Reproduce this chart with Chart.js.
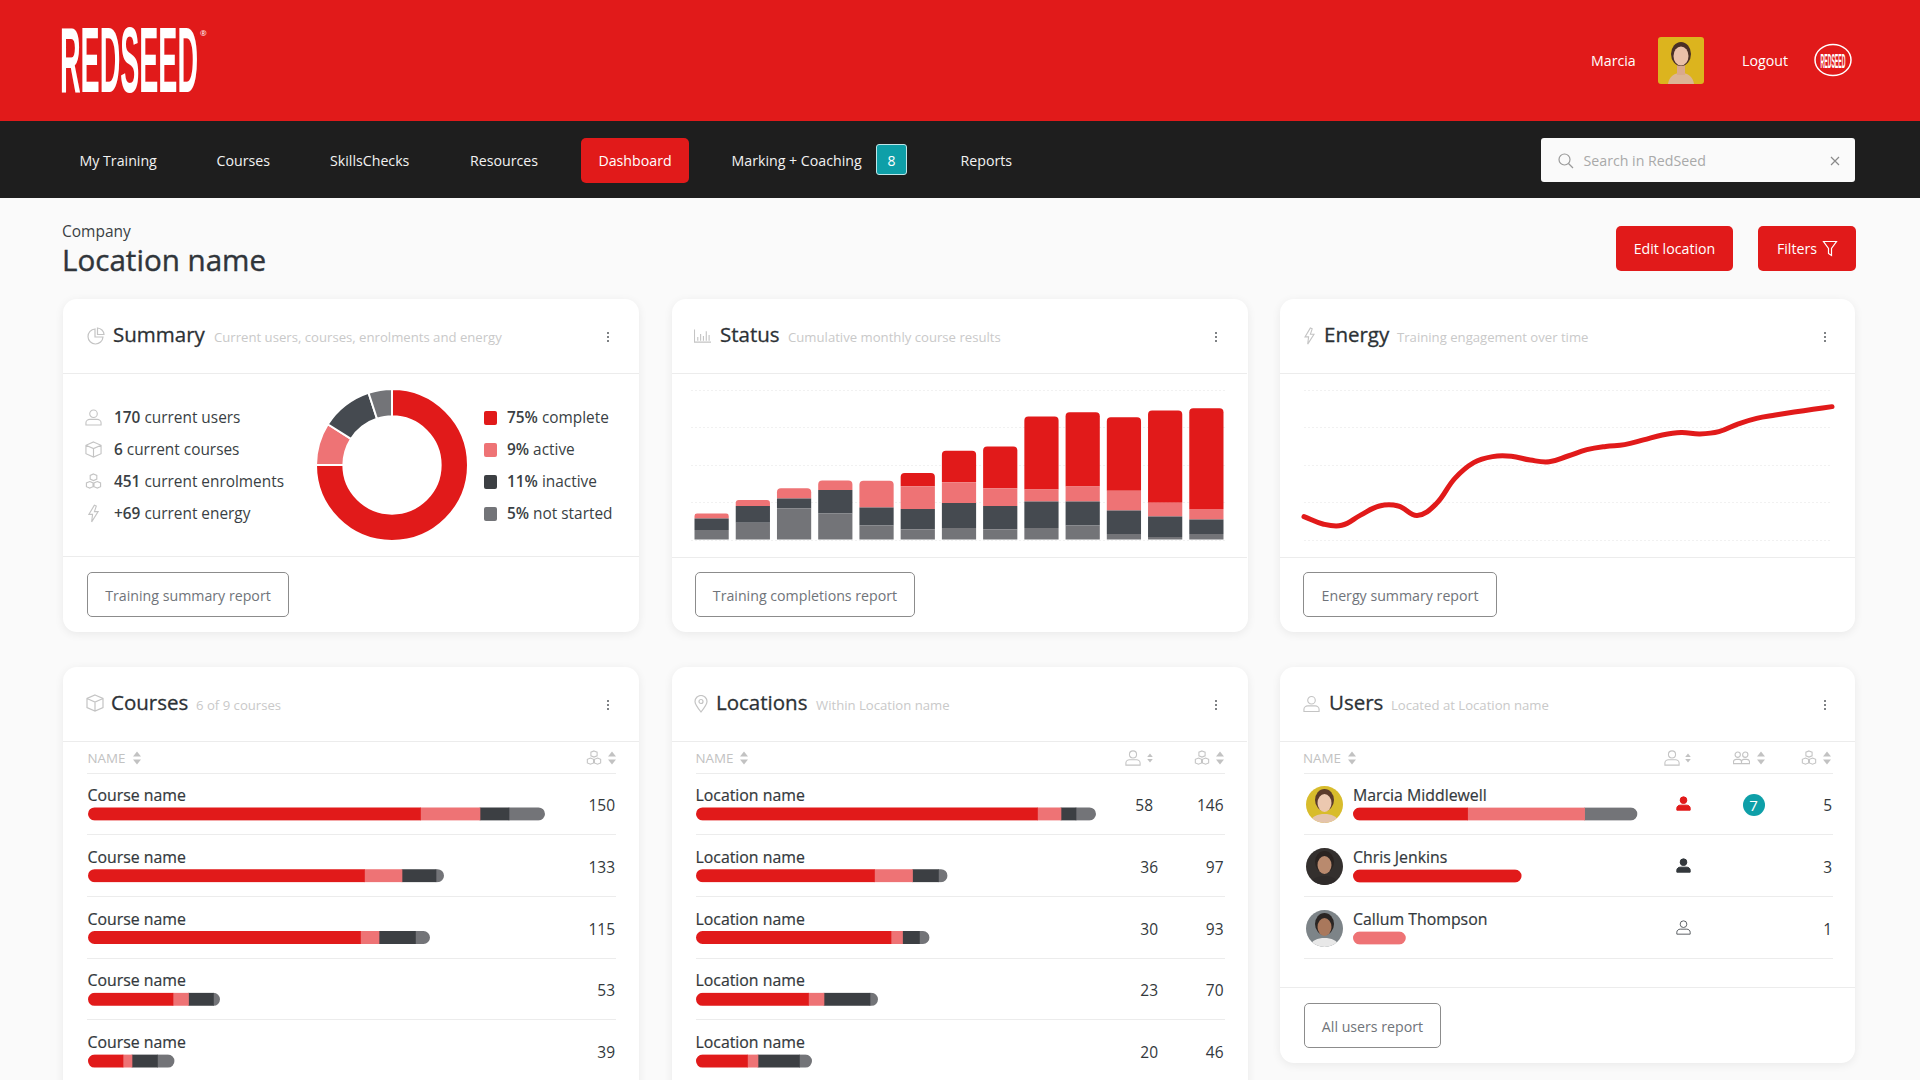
<!DOCTYPE html>
<html>
<head>
<meta charset="utf-8">
<title>RedSeed dashboard</title>
<script src="https://cdn.jsdelivr.net/npm/chart.js@4"></script>
<style>
  html, body { margin: 0; padding: 0; }
  body { width: 1920px; height: 1080px; overflow: hidden; position: relative; background: #fafafa; font-family: 'Open Sans', sans-serif; color: #33383c; }
  .box { position: absolute; }
  .t { position: absolute; white-space: nowrap; transform: translateY(-50%); line-height: 1.2; }
  .t.r { transform: translate(-100%, -50%); }
  .t.c { transform: translate(-50%, -50%); }
  .card { position: absolute; background: #fff; border-radius: 14px; box-shadow: 0 2px 10px rgba(0,0,0,0.07); }
  .rule { position: absolute; height: 1px; background: #ececec; }
  .title { font-size: 20.5px; -webkit-text-stroke: 0.3px #2c3135; color: #2c3135; }
  .sub { font-size: 13.15px; color: #c9c9c9; }
  .nav { font-size: 14.2px; color: #f2f2f2; }
  .btn { position: absolute; box-sizing: border-box; border: 1px solid #8c8c8c; border-radius: 5px; background: #fff; color: #70747a; font-size: 14.2px; padding-top: 1px; display: flex; align-items: center; justify-content: center; }
  .btn.red { background: #e11a1a; border: 0; color: #fff; border-radius: 5px; }
  .stat { font-size: 15.4px; color: #3a3f44; }
  .stat b { font-weight: 600; }
  .head { font-size: 13.4px; color: #c2c2c2; }
  .rowname { font-size: 15.85px; -webkit-text-stroke: 0.2px #33383c; color: #33383c; }
  .rowval { font-size: 15.5px; color: #33383c; }
  canvas { position: absolute; }
  svg.i { position: absolute; fill: none; stroke: #c4c4c4; stroke-width: 1.2; overflow: visible; }
</style>
</head>
<body>

<svg width="0" height="0" style="position:absolute">
  <symbol id="user" viewBox="0 0 18 18"><circle cx="9" cy="5" r="4"/><path d="M1 17v-2.5c0-2 2-3.5 4-3.5h8c2 0 4 1.500 4 3.500V17z"/></symbol>
  <symbol id="group" viewBox="0 0 18 14"><circle cx="5" cy="3.500" r="2.800"/><circle cx="13" cy="3.500" r="2.800"/><path d="M.5 13v-2c0-1.500 1.500-2.500 3-2.500h3c1.500 0 2.500 1 2.500 2.500v2zM9 13v-2c0-1.500 1-2.500 2.500-2.500h3c1.500 0 3 1 3 2.500v2z"/></symbol>
  <symbol id="cube" viewBox="0 0 18 18"><path d="M9 1l8 3.500v9L9 17l-8-3.500v-9zM1 4.500L9 8l8-3.500M9 8v9"/></symbol>
  <symbol id="cubes" viewBox="0 0 18 18"><path d="M9 1l3.500 1.500v4L9 8 5.500 6.500v-4zM5 9l3.500 1.500v4L5 16l-3.500-1.500v-4zM13 9l3.500 1.500v4L13 16l-3.500-1.500v-4z"/></symbol>
  <symbol id="bolt" viewBox="0 0 14 20"><path d="M8 1L2 11h4l-1 8 7-11H8l2-6z"/></symbol>
  <symbol id="pie" viewBox="0 0 18 18"><path d="M8 2a7.500 7.500 0 1 0 8 8H8zM10.500 1a7 7 0 0 1 6.500 6.500h-6.500z"/></symbol>
  <symbol id="bars" viewBox="0 0 18 14"><path d="M.5 0v13.500H18M4 12V8M7 12V5M10 12V7M13 12V2M16 12V6"/></symbol>
  <symbol id="pin" viewBox="0 0 14 18"><path d="M7 17C3 12 1 9 1 6.500a6 6 0 0 1 12 0C13 9 11 12 7 17z"/><circle cx="7" cy="6.500" r="2"/></symbol>
</svg>

<!-- top bar -->
<div class="box" style="left:0;top:0;width:1920px;height:121px;background:#e11a1a"></div>
<div class="box" style="left:0;top:121px;width:1920px;height:77px;background:#1e1e1e"></div>
<svg class="box" style="left:55px;top:20px" width="160" height="80">
  <text x="5" y="72" font-family="Liberation Sans" font-weight="700" font-size="92" fill="#fff" textLength="138" lengthAdjust="spacingAndGlyphs">REDSEED</text>
  <text x="145" y="16" font-family="Open Sans" font-size="8" fill="#fff">®</text>
</svg>

<div class="t nav" style="left:79.500px;top:161px">My Training</div>
<div class="t nav" style="left:216.500px;top:161px">Courses</div>
<div class="t nav" style="left:330px;top:161px">SkillsChecks</div>
<div class="t nav" style="left:470px;top:161px">Resources</div>
<div class="btn red" style="left:581px;top:138px;width:108px;height:45px;padding-top:0">Dashboard</div>
<div class="t nav" style="left:731.500px;top:161px">Marking + Coaching</div>
<div class="btn" style="left:876px;top:144px;width:31px;height:31px;background:#0e9fa8;border:1px solid #bfe6e8;color:#fff;font-size:14px;border-radius:3px">8</div>
<div class="t nav" style="left:960.500px;top:161px">Reports</div>

<div class="t" style="left:1591px;top:61px;font-size:14.2px;color:#fff">Marcia</div>
<svg class="box" style="left:1658px;top:37px;border-radius:3px" width="46" height="47" viewBox="0 0 46 47">
  <rect width="46" height="47" fill="#dcb41e"/>
  <path d="M10 47c1-8 7-11 13-11s12 3 13 11z" fill="#dcb595"/>
  <rect x="19" y="26" width="8" height="12" fill="#d9a98c"/>
  <ellipse cx="23" cy="17" rx="10" ry="12" fill="#4a3026"/>
  <ellipse cx="23" cy="19" rx="7.500" ry="9.500" fill="#eac0a8"/>
</svg>
<div class="t" style="left:1742px;top:61px;font-size:14.2px;color:#fff">Logout</div>
<svg class="box" style="left:1813px;top:43px" width="40" height="34">
  <ellipse cx="20" cy="17" rx="18" ry="15.500" fill="none" stroke="#fff" stroke-width="1.500"/>
  <text x="7.500" y="24.500" font-family="Liberation Sans" font-weight="700" font-size="20" fill="#fff" textLength="25" lengthAdjust="spacingAndGlyphs">REDSEED</text>
</svg>

<div class="box" style="left:1541px;top:138px;width:314px;height:44px;background:#fafafa;border-radius:3px"></div>
<svg class="i" style="left:1558px;top:153px;stroke:#9a9a9a" width="16" height="16" viewBox="0 0 16 16"><circle cx="6.500" cy="6.500" r="5.500"/><path d="M10.500 10.500L15 15"/></svg>
<div class="t" style="left:1583.500px;top:161px;font-size:14.2px;color:#a9a9a9">Search in RedSeed</div>
<svg class="i" style="left:1831px;top:157px;stroke:#8a8a8a" width="8" height="8" viewBox="0 0 8 8"><path d="M0 0L8 8M8 0L0 8"/></svg>

<!-- page title -->
<div class="t" style="left:62px;top:231px;font-size:15.500px;color:#3a3f44">Company</div>
<div class="t" style="left:62px;top:260px;font-size:29.6px;-webkit-text-stroke:0.4px #30353a;color:#30353a">Location name</div>
<div class="btn red" style="left:1616px;top:226px;width:117px;height:45px;padding-top:0">Edit location</div>
<div class="btn red" style="left:1758px;top:226px;width:98px;height:45px;padding:0 20px 0 0">Filters</div>
<svg class="i" style="left:1823px;top:241px;stroke:#fff" width="14" height="15" viewBox="0 0 14 15"><path d="M.5 .5h13L8.500 7.500V14.500L5.500 12.500V7.500z"/></svg>

<!-- row 1 cards -->
<div class="card" style="left:63px;top:299px;width:576px;height:333px"></div>
<div class="card" style="left:671.500px;top:299px;width:576px;height:333px"></div>
<div class="card" style="left:1280px;top:299px;width:575px;height:333px"></div>
<div class="rule" style="left:63px;top:373px;width:576px"></div>
<div class="rule" style="left:63px;top:556px;width:576px"></div>
<div class="rule" style="left:672px;top:373px;width:575px"></div>
<div class="rule" style="left:672px;top:557px;width:575px"></div>
<div class="rule" style="left:1280px;top:373px;width:575px"></div>
<div class="rule" style="left:1280px;top:557px;width:575px"></div>

<svg class="i" style="left:87px;top:327px" width="18" height="18"><use href="#pie"/></svg>
<div class="t title" style="left:113px;top:333.500px">Summary</div>
<div class="t sub" style="left:214px;top:337.500px">Current users, courses, enrolments and energy</div>
<svg class="i" style="left:694px;top:329px" width="17" height="14"><use href="#bars"/></svg>
<div class="t title" style="left:720px;top:333.500px">Status</div>
<div class="t sub" style="left:788px;top:337.500px">Cumulative monthly course results</div>
<svg class="i" style="left:1303px;top:327px" width="13" height="18"><use href="#bolt"/></svg>
<div class="t title" style="left:1324px;top:333.500px">Energy</div>
<div class="t sub" style="left:1397px;top:337.500px">Training engagement over time</div>

<!-- summary stats -->
<svg class="i" style="left:85px;top:409px" width="17" height="17"><use href="#user"/></svg>
<div class="t stat" style="left:114px;top:417.500px"><b>170</b> current users</div>
<svg class="i" style="left:85px;top:441px" width="17" height="17"><use href="#cube"/></svg>
<div class="t stat" style="left:114px;top:449.500px"><b>6</b> current courses</div>
<svg class="i" style="left:85px;top:473px" width="17" height="17"><use href="#cubes"/></svg>
<div class="t stat" style="left:114px;top:481.500px"><b>451</b> current enrolments</div>
<svg class="i" style="left:87px;top:504px" width="13" height="19"><use href="#bolt"/></svg>
<div class="t stat" style="left:114px;top:513.500px"><b>+69</b> current energy</div>

<canvas id="donut-chart" width="154" height="154" style="left:314.600px;top:388px"></canvas>
<div id="donut-legend"></div>

<canvas id="status-chart" width="536" height="154" style="left:691px;top:388px"></canvas>
<canvas id="energy-chart" width="535" height="154" style="left:1300px;top:388px"></canvas>

<div class="btn" style="left:87px;top:572px;width:202px;height:45px">Training summary report</div>
<div class="btn" style="left:695px;top:572px;width:220px;height:45px">Training completions report</div>
<div class="btn" style="left:1303px;top:572px;width:194px;height:45px">Energy summary report</div>

<!-- row 2 cards -->
<div class="card" style="left:63px;top:667px;width:576px;height:440px"></div>
<div class="card" style="left:671.500px;top:667px;width:576px;height:440px"></div>
<div class="card" style="left:1280px;top:667px;width:575px;height:396px"></div>
<div class="rule" style="left:63px;top:741px;width:576px"></div>
<div class="rule" style="left:672px;top:741px;width:575px"></div>
<div class="rule" style="left:1280px;top:741px;width:575px"></div>
<div class="rule" style="left:1280px;top:987px;width:575px"></div>

<svg class="i" style="left:86px;top:694px" width="18" height="18"><use href="#cube"/></svg>
<div class="t title" style="left:111px;top:701.500px">Courses</div>
<div class="t sub" style="left:196px;top:706px">6 of 9 courses</div>
<svg class="i" style="left:694px;top:695px" width="14" height="18"><use href="#pin"/></svg>
<div class="t title" style="left:716px;top:701.500px">Locations</div>
<div class="t sub" style="left:816px;top:706px">Within Location name</div>
<svg class="i" style="left:1303px;top:695px" width="17" height="18"><use href="#user"/></svg>
<div class="t title" style="left:1329px;top:701.500px">Users</div>
<div class="t sub" style="left:1391px;top:706px">Located at Location name</div>

<div id="tables"></div>

<canvas id="courses-chart" width="500" height="309" style="left:87.500px;top:782.500px"></canvas>
<canvas id="locations-chart" width="500" height="309" style="left:695.600px;top:782.500px"></canvas>
<canvas id="users-chart" width="300" height="186" style="left:1352.500px;top:782.500px"></canvas>

<div class="btn" style="left:1304px;top:1003px;width:137px;height:45px">All users report</div>

<script>
'use strict';

// Palette
const RED = '#e11a1a';
const PINK = '#ee7375';
const DARK = '#454a50';
const BAR_DARK = '#3c3f43';
const GREY = '#737478';

// ── Summary ───────────────────────────────────
const summaryLabels = ['complete', 'active', 'inactive', 'not started'];
const summaryValues = [75, 9, 11, 5];

// ── Status (cumulative monthly results) ───────
const statusMonths = ['M1', 'M2', 'M3', 'M4', 'M5', 'M6', 'M7', 'M8', 'M9', 'M10', 'M11', 'M12', 'M13'];
const statusNotStarted = [6.6, 11.5, 21.2, 17.7, 9.7, 7.1, 8.0, 7.1, 8.0, 9.7, 4.0, 2.0, 4.0];
const statusInactive = [7.7, 11.1, 6.4, 15.7, 11.9, 13.5, 16.6, 15.5, 17.7, 15.9, 15.7, 13.7, 9.7];
const statusActive = [3.3, 4.0, 6.9, 6.2, 17.9, 15.3, 13.9, 11.9, 8.0, 10.0, 13.1, 9.1, 6.9];
const statusComplete = [null, null, null, null, null, 8.8, 21.0, 27.9, 48.7, 49.6, 49.1, 61.5, 67.3];
const statusTicks = [0, 25, 50, 75, 100];

// ── Energy ────────────────────────────────────
const energyWeeks = ['1', '2', '3', '4', '5', '6', '7', '8', '9', '10', '11', '12', '13', '14', '15',
  '16', '17', '18', '19', '20', '21', '22', '23', '24', '25', '26', '27', '28', '29'];
const energyValues = [15.6, 10.7, 9.8, 16.6, 22.7, 22.7, 16.4, 24, 41.1, 51.6, 55.6, 55.8, 53.3, 52.2, 56,
  60.2, 62.4, 63.6, 66.7, 70, 71.6, 70.7, 72.2, 77.3, 81.1, 83.3, 85.3, 87.1, 88.9];

// ── Courses ───────────────────────────────────
const courseNames = ['Course name', 'Course name', 'Course name', 'Course name', 'Course name'];
const courseEnrolments = [150, 133, 115, 53, 39];
const courseComplete = [66.5, 55.3, 54.5, 17.0, 7.0];
const courseActive = [11.9, 7.5, 3.7, 3.1, 1.8];
const courseInactive = [5.8, 6.8, 7.3, 5.0, 5.1];
const courseNotStarted = [7.2, 1.6, 2.9, 1.3, 3.4];

// ── Locations ─────────────────────────────────
const locationNames = ['Location name', 'Location name', 'Location name', 'Location name', 'Location name'];
const locationUsers = [58, 36, 30, 23, 20];
const locationEnrolments = [146, 97, 93, 70, 46];
const locationComplete = [68.3, 35.7, 39.0, 22.5, 10.3];
const locationActive = [4.7, 7.6, 2.3, 3.1, 2.1];
const locationInactive = [3.0, 5.2, 3.4, 9.2, 8.3];
const locationNotStarted = [4.0, 1.8, 2.0, 1.6, 2.5];

// ── Users ─────────────────────────────────────
const userNames = ['Marcia Middlewell', 'Chris Jenkins', 'Callum Thompson'];
const userEnrolments = [5, 3, 1];
const userComplete = [38.2, 56.2, null];
const userActive = [39, null, 17.6];
const userInactive = [null, null, null];
const userNotStarted = [17.6, null, null];

// Small DOM helpers for the static table text
function addText(parent, cls, left, top, text, style) {
  const el = document.createElement('div');
  el.className = cls;
  el.style.left = left + 'px';
  el.style.top = top + 'px';
  el.textContent = text;
  if (style) el.style.cssText += style;
  parent.appendChild(el);
  return el;
}

function addIcon(parent, id, left, top, w, h, style) {
  const html = `<svg class="i" style="left:${left}px;top:${top}px;${style || ''}" width="${w}" height="${h}"><use href="#${id}"/></svg>`;
  parent.insertAdjacentHTML('beforeend', html);
}

function addSort(parent, cx, cy, small) {
  const s = small ? 0.7 : 1;
  const html = `<svg class="box" style="left:${cx - 5}px;top:${cy - 8}px" width="10" height="16" viewBox="0 0 10 16">
    <path transform="translate(5 8) scale(${s}) translate(-5 -8)" d="M5 1.500L9 6.500H1zM5 14.500L1 9.500H9z" fill="#c2c2c2"/></svg>`;
  parent.insertAdjacentHTML('beforeend', html);
}

function addAvatar(parent, left, top, bg, hair, skin, shirt) {
  const id = 'clip' + top;
  const html = `<svg class="box" style="left:${left}px;top:${top}px" width="37" height="37" viewBox="0 0 37 37">
    <clipPath id="${id}"><circle cx="18.500" cy="18.500" r="18.500"/></clipPath>
    <g clip-path="url(#${id})"><rect width="37" height="37" fill="${bg}"/>
    <path d="M4 37c1-7 8-9 14.500-9S32 30 33 37z" fill="${shirt}"/>
    <ellipse cx="18.500" cy="14" rx="9.500" ry="11" fill="${hair}"/>
    <ellipse cx="18.500" cy="17" rx="7" ry="9" fill="${skin}"/></g></svg>`;
  parent.insertAdjacentHTML('beforeend', html);
}

const tables = document.getElementById('tables');

// Legend next to the doughnut
const legendBox = document.getElementById('donut-legend');
const legendColors = [RED, PINK, BAR_DARK, GREY];
summaryLabels.forEach((label, i) => {
  const y = 418 + i * 32;
  const sq = document.createElement('div');
  sq.className = 'box';
  sq.style.cssText = `left:484px;top:${y - 7}px;width:13px;height:14px;border-radius:2px;background:${legendColors[i]}`;
  legendBox.appendChild(sq);
  const el = addText(legendBox, 't stat', 507, y - 0.5, '');
  el.innerHTML = `<b>${summaryValues[i]}%</b> ${label}`;
});

// Table rows: name above the bar, counts on the right
const ROW_TOP = 795;
const ROW_STEP = 61.8;

function addRows(names, nameX, ruleX, ruleW, columns) {
  names.forEach((name, i) => {
    const y = ROW_TOP + i * ROW_STEP;
    addText(tables, 't rowname', nameX, y, name);
    columns.forEach(col => {
      addText(tables, 't r rowval', col.x + (col.shift ? col.shift[i] : 0), y + 10, col.values[i]);
    });
    if (i < names.length - 1 || names.length === 3) {
      addText(tables, 'rule', ruleX, y + 39, '', `width:${ruleW}px`);
    }
  });
}

// Courses table
addText(tables, 't head', 87.5, 758, 'NAME');
addSort(tables, 137, 758);
addIcon(tables, 'cubes', 586, 750, 16, 16);
addSort(tables, 612, 758);
addText(tables, 'rule', 87, 773, '', 'width:529px');
addRows(courseNames, 87.5, 87, 529, [{ x: 615, values: courseEnrolments }]);

// Locations table
addText(tables, 't head', 695.5, 758, 'NAME');
addSort(tables, 744, 758);
addIcon(tables, 'user', 1125, 750, 16, 16);
addSort(tables, 1150, 758, true);
addIcon(tables, 'cubes', 1194, 750, 16, 16);
addSort(tables, 1219.5, 758);
addText(tables, 'rule', 695.5, 773, '', 'width:529px');
addRows(locationNames, 695.5, 695.5, 529, [
  { x: 1158, values: locationUsers, shift: [-5, 0, 0, 0, 0] },
  { x: 1223.5, values: locationEnrolments },
]);

// Users table
addText(tables, 't head', 1303, 758, 'NAME');
addSort(tables, 1352, 758);
addIcon(tables, 'user', 1664, 750, 16, 16);
addSort(tables, 1688, 758, true);
addIcon(tables, 'group', 1733, 751, 17, 14);
addSort(tables, 1761, 758);
addIcon(tables, 'cubes', 1801, 750, 16, 16);
addSort(tables, 1827, 758);
addText(tables, 'rule', 1304, 773, '', 'width:529px');
addRows(userNames, 1353, 1304, 529, [{ x: 1832, values: userEnrolments }]);

addAvatar(tables, 1305.5, 786, '#d8bc2c', '#5a3a2a', '#ecc8b0', '#e4c4ac');
addAvatar(tables, 1305.5, 848, '#34302e', '#2a2320', '#b98a6e', '#2f2b2a');
addAvatar(tables, 1305.5, 910, '#7d8488', '#2a2523', '#a9785c', '#e8e8e8');

addIcon(tables, 'user', 1676, 796, 15, 15, 'fill:#e11a1a;stroke:#e11a1a');
addIcon(tables, 'user', 1676, 858, 15, 15, 'fill:#33383c;stroke:#33383c');
addIcon(tables, 'user', 1676, 920, 15, 15, 'stroke:#5e6266');

addText(tables, 'box', 1742.5, 794, '7', 'width:22px;height:22px;border-radius:50%;background:#0e9fa8;color:#fff;font-size:15px;line-height:22px;text-align:center');

// ── Menu dots on each card ────────────────────
[[608, 337], [1216, 337], [1824.5, 337], [608, 705], [1216, 705], [1824.5, 705]].forEach(([x, y]) => {
  [-4, 0, 4].forEach(d => {
    addText(tables, 'box', x - 1, y + d - 1, '', 'width:2.4px;height:2.4px;border-radius:50%;background:#55595d');
  });
});

// ── Charts ────────────────────────────────────
Chart.defaults.font.family = "'Open Sans', sans-serif";
Chart.defaults.animation = false;
Chart.defaults.responsive = false;
Chart.defaults.plugins.legend.display = false;
Chart.defaults.plugins.tooltip.enabled = false;

new Chart(document.getElementById('donut-chart'), {
  type: 'doughnut',
  data: {
    labels: summaryLabels,
    datasets: [{
      data: summaryValues,
      backgroundColor: [RED, PINK, DARK, GREY],
      borderColor: '#fff',
      borderWidth: 2,
    }],
  },
  options: { cutout: '64%', layout: { padding: 0 } },
});

// Only the top segment of each stack gets rounded corners
function topRadius(ctx) {
  const vals = ctx.chart.data.datasets.map(d => d.data[ctx.dataIndex]);
  let last = vals.length - 1;
  while (last > 0 && !(vals[last] > 0)) last--;
  const r = ctx.datasetIndex === last ? 4 : 0;
  return { topLeft: r, topRight: r, bottomLeft: 0, bottomRight: 0 };
}

new Chart(document.getElementById('status-chart'), {
  type: 'bar',
  data: {
    labels: statusMonths,
    datasets: [
      { label: 'not started', data: statusNotStarted, backgroundColor: GREY },
      { label: 'inactive', data: statusInactive, backgroundColor: DARK },
      { label: 'active', data: statusActive, backgroundColor: PINK },
      { label: 'complete', data: statusComplete, backgroundColor: RED },
    ],
  },
  options: {
    layout: { padding: { top: 2, bottom: 2 } },
    datasets: { bar: { categoryPercentage: 1, barPercentage: 0.83, borderRadius: topRadius, borderSkipped: false } },
    scales: {
      x: { stacked: true, display: false },
      y: {
        stacked: true, min: 0, max: 100,
        afterBuildTicks: axis => { axis.ticks = statusTicks.map(value => ({ value })); },
        grid: { color: '#f1f1f1', drawTicks: false },
        border: { display: false, dash: [2, 2] },
        ticks: { display: false },
      },
    },
  },
});

new Chart(document.getElementById('energy-chart'), {
  type: 'line',
  data: {
    labels: energyWeeks,
    datasets: [{
      label: 'Energy',
      data: energyValues,
      borderColor: RED,
      borderWidth: 5,
      borderCapStyle: 'round',
      borderJoinStyle: 'round',
      tension: 0.4,
      pointRadius: 0,
      clip: false,
    }],
  },
  options: {
    layout: { padding: { top: 2, bottom: 2, left: 4, right: 3 } },
    scales: {
      x: { display: false, offset: false },
      y: {
        min: 0, max: 100,
        afterBuildTicks: axis => { axis.ticks = statusTicks.map(value => ({ value })); },
        grid: { color: '#f1f1f1', drawTicks: false },
        border: { display: false, dash: [2, 2] },
        ticks: { display: false },
      },
    },
  },
});

// Clips each stacked row to one pill, so short end segments still get a round end
const pillClip = {
  id: 'pillClip',
  beforeDatasetsDraw(chart) {
    const { ctx, scales: { x, y } } = chart;
    ctx.save();
    ctx.beginPath();
    chart.data.labels.forEach((label, i) => {
      const total = chart.data.datasets.reduce((sum, d) => sum + (d.data[i] || 0), 0);
      const x0 = x.getPixelForValue(0);
      const x1 = x.getPixelForValue(total);
      const cy = y.getPixelForValue(i);
      ctx.roundRect(x0, cy - 6.5, x1 - x0, 13, 6.5);
    });
    ctx.clip();
  },
  afterDatasetsDraw(chart) {
    chart.ctx.restore();
  },
};

function renderProgressBars(canvasId, labels, complete, active, inactive, notStarted) {
  return new Chart(document.getElementById(canvasId), {
    type: 'bar',
    data: {
      labels,
      datasets: [
        { label: 'complete', data: complete, backgroundColor: RED },
        { label: 'active', data: active, backgroundColor: PINK },
        { label: 'inactive', data: inactive, backgroundColor: BAR_DARK },
        { label: 'not started', data: notStarted, backgroundColor: GREY },
      ],
    },
    options: {
      indexAxis: 'y',
      datasets: { bar: { barThickness: 13 } },
      scales: {
        x: { stacked: true, display: false, min: 0, max: 100 },
        y: { stacked: true, display: false },
      },
    },
    plugins: [pillClip],
  });
}

renderProgressBars('courses-chart', courseNames, courseComplete, courseActive, courseInactive, courseNotStarted);
renderProgressBars('locations-chart', locationNames, locationComplete, locationActive, locationInactive, locationNotStarted);
renderProgressBars('users-chart', userNames, userComplete, userActive, userInactive, userNotStarted);
</script>
</body>
</html>
